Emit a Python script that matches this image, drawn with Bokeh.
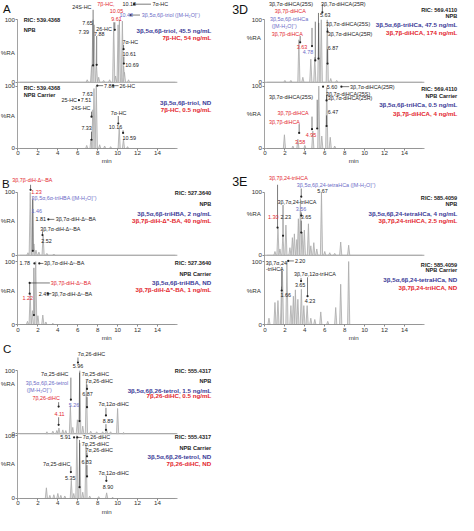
from bokeh.plotting import figure
from bokeh.models import Label, FixedTicker, Range1d, Spacer
from bokeh.layouts import column, row
from bokeh.embed import file_html
from bokeh.resources import INLINE

FONT = "Liberation Sans"
COL = {"k": "#222222", "r": "#e3262d", "b": "#3b3a97", "lb": "#6a6ac6"}
KIND = {"n": ("5.4px", "normal"), "s": ("5.6px", "bold"), "c": ("6.2px", "bold")}
TRACE_LINE = "#a9a9a9"
TRACE_FILL = "#e4e4e4"
AXIS_GRAY = "#8a8a8a"

# ---------------- chromatogram peaks: retention time (min) and %RA ----------------
A_top_t = [6.95, 7.39, 7.52, 7.65, 7.88, 8.10, 8.60, 9.20, 9.61, 9.80, 10.05, 10.18, 10.48, 10.61, 10.69, 11.10]
A_top_h = [4, 27, 100, 92, 28, 8, 3, 4, 96, 10, 92, 100, 98, 26, 16, 4]
A_bot_t = [6.90, 7.33, 7.51, 7.63, 7.86, 8.20, 8.70, 9.30, 10.16, 10.59, 11.00]
A_bot_h = [5, 15, 62, 96, 100, 6, 4, 3, 33, 15, 3]

B_top_t = [1.00, 1.23, 1.46, 1.60, 1.81, 2.10, 2.52, 2.90, 3.60]
B_top_h = [4, 100, 92, 18, 8, 5, 31, 3, 2]
B_bot_t = [0.95, 1.22, 1.45, 1.78, 2.00, 2.49, 2.80, 3.50]
B_bot_h = [5, 49, 22, 100, 14, 15, 4, 2]

C_top_t = [2.90, 3.50, 3.90, 4.11, 4.50, 4.80, 5.26, 5.50, 5.96, 6.20, 6.50, 6.87, 7.30, 7.90, 8.50, 8.89, 9.30, 10.00, 10.60]
C_top_h = [3, 4, 5, 9, 6, 5, 45, 10, 22, 100, 12, 85, 4, 3, 3, 7, 3, 40, 2]
C_bot_t = [2.85, 3.20, 3.60, 4.00, 4.30, 4.70, 5.35, 5.60, 5.91, 6.20, 6.50, 6.83, 7.20, 8.10, 8.90, 9.50]
C_bot_h = [17, 5, 6, 8, 5, 4, 29, 8, 100, 88, 10, 85, 4, 3, 9, 2]

D_top_t = [2.00, 2.60, 3.40, 3.80, 4.60, 5.00, 5.40, 5.65, 6.25, 6.60, 7.20]
D_top_h = [3, 3, 68, 8, 37, 40, 95, 100, 100, 6, 3]
D_bot_t = [1.95, 2.80, 3.30, 4.00, 4.80, 5.40, 5.70, 6.20, 6.55, 7.00]
D_bot_h = [22, 4, 15, 5, 28, 100, 20, 98, 18, 4]

E_top_t = [1.00, 1.30, 1.50, 1.80, 2.10, 2.50, 2.75, 2.95, 3.20, 3.35, 3.56, 3.72, 3.95, 4.36, 4.60, 4.90, 5.20, 5.67, 6.00, 6.50, 7.00, 7.60, 8.40]
E_top_h = [6, 44, 10, 33, 48, 12, 28, 34, 25, 58, 90, 37, 40, 50, 15, 20, 10, 100, 6, 4, 3, 21, 16]
E_bot_t = [0.40, 1.00, 1.30, 1.66, 1.75, 2.20, 2.60, 2.85, 3.05, 3.30, 3.65, 3.90, 4.23, 4.60, 5.00, 5.60, 6.30, 7.10, 7.60, 8.40]
E_bot_h = [10, 35, 38, 60, 85, 100, 30, 45, 55, 40, 56, 30, 30, 10, 8, 20, 5, 27, 64, 100]

X_TICKS = [0, 2, 4, 6, 8, 10, 12, 14]
AXIS_END = 16
PEAK_HALF_WIDTH = 0.11
TRACE_SPAN = (0.2, 15.8)

L_RIGHT = 19.4   # right edge for right-aligned notes, left column
R_RIGHT = 19.3   # right edge for right-aligned notes, right column

# ---------------- annotation texts: (text, x[min], y, colour, align, kind) ----------------
A_texts = [
    ("24S-HC", 6.41, 226, "k", "center", "n"), ("7.65", 6.99, 201, "k", "center", "n"),
    ("7.39", 6.6, 186, "k", "center", "n"), ("26-HC", 8.64, 192, "k", "center", "n"),
    ("7.88", 8.16, 184, "k", "center", "n"), ("7β-HC,", 8.83, 231, "r", "center", "n"),
    ("10.05", 9.9, 220, "r", "center", "n"), ("9.61", 9.9, 207, "r", "center", "n"),
    ("10.18", 10.49, 231, "k", "left", "n"), ("7α-HC", 13.5, 231, "k", "left", "n"),
    ("10.48", 10.2, 213.6, "lb", "left", "n"), ("3β,5α,6β-triol ([M-H₂O]⁺)", 12.43, 213.6, "lb", "left", "n"),
    ("7α-HC", 10.49, 170, "k", "left", "n"), ("10.61", 10.49, 152, "k", "left", "n"),
    ("10.69", 10.78, 133, "k", "left", "n"),
    ("RIC: 539.4368", 0.58, 206, "k", "left", "s"), ("NPB", 0.58, 190, "k", "left", "s"),
    ("3β,5α,6β-triol, 45.5 ng/mL", L_RIGHT, 189, "b", "right", "c"),
    ("7β-HC, 54 ng/mL", L_RIGHT, 178, "r", "right", "c"),
    ("RIC: 539.4368", 0.58, 97.5, "k", "left", "s"), ("NPB Carrier", 0.58, 85, "k", "left", "s"),
    ("7.86", 8.64, 100.6, "k", "left", "n"), ("26-HC", 10.19, 100.6, "k", "left", "n"),
    ("7.63", 6.99, 86.7, "k", "center", "n"), ("25-HC", 5.92, 77.4, "k", "right", "n"),
    ("7.51", 6.31, 77.4, "k", "left", "n"), ("24S-HC", 6.31, 65, "k", "center", "n"),
    ("7.33", 6.89, 32.5, "k", "center", "n"), ("7α-HC", 10.1, 57, "k", "center", "n"),
    ("10.16", 9.8, 34, "k", "center", "n"), ("10.59", 10.49, 17, "k", "left", "n"),
    ("3β,5α,6β-triol, ND", L_RIGHT, 74, "b", "right", "c"),
    ("7β-HC, 0.5 ng/mL", L_RIGHT, 62, "r", "right", "c"),
]
B_texts = [
    ("3β,7β-diH-Δ⁵-BA", -0.58, 230, "r", "left", "n"), ("1.23", 1.85, 210, "r", "center", "n"),
    ("3β,5α,6α-triHBA ([M-H₂O]⁺)", 1.36, 201, "lb", "left", "n"), ("1.46", 1.36, 181, "lb", "left", "n"),
    ("RIC: 527.3640", L_RIGHT, 209, "k", "right", "s"), ("NPB", L_RIGHT, 192, "k", "right", "s"),
    ("3β,5α,6β-triHBA, 2 ng/mL", L_RIGHT, 177, "b", "right", "c"),
    ("3β,7β-diH-Δ⁵-BA, 40 ng/mL", L_RIGHT, 166, "r", "right", "c"),
    ("1.81", 1.75, 167, "k", "left", "n"), ("3β,7α-diH-Δ⁵-BA", 3.79, 167, "k", "left", "n"),
    ("3β,7α-diH-Δ⁵-BA", 2.23, 152, "k", "left", "n"), ("2.52", 2.33, 132, "k", "left", "n"),
    ("1.78", 0.68, 97, "k", "center", "n"), ("3β,7α-diH-Δ⁵-BA", 2.62, 97, "k", "left", "n"),
    ("RIC: 527.3640", L_RIGHT, 97, "k", "right", "s"), ("NPB Carrier", L_RIGHT, 81, "k", "right", "s"),
    ("3β,5α,6β-triHBA, ND", L_RIGHT, 66, "b", "right", "c"),
    ("3β,7β-diH-Δ⁵-BA, 1 ng/mL", L_RIGHT, 55, "r", "right", "c"),
    ("3β,7β-diH-Δ⁵-BA", 3.3, 66, "r", "left", "n"), ("1.22", 0.97, 41.5, "r", "center", "n"),
    ("2.49", 2.62, 49, "k", "center", "n"), ("3β,7α-diH-Δ⁵-BA", 3.4, 49, "k", "left", "n"),
]
C_texts = [
    ("7α,26-diHC", 7.38, 229, "k", "center", "n"), ("5.96", 6.02, 210, "k", "center", "n"),
    ("RIC: 555.4317", L_RIGHT, 203, "k", "right", "s"), ("NPB", L_RIGHT, 186, "k", "right", "s"),
    ("3β,5α,6β,26-tetrol, 1.5 ng/mL", L_RIGHT, 172, "b", "right", "c"),
    ("7β,26-diHC, 0.5 ng/mL", L_RIGHT, 163, "r", "right", "c"),
    ("7α,25-diHC", 3.69, 198, "k", "center", "n"), ("7α,25-diHC", 7.77, 198, "k", "center", "n"),
    ("7α,26-diHC", 8.16, 186, "k", "center", "n"), ("6.87", 6.99, 166, "k", "center", "n"),
    ("3β,5α,6β,26-tetrol", 2.91, 184, "lb", "center", "n"), ("([M-H₂O]⁺)", 2.14, 172, "lb", "center", "n"),
    ("7β,26-diHC", 2.82, 160, "r", "center", "n"), ("5.26", 5.63, 149, "lb", "center", "n"),
    ("4.11", 4.17, 135, "r", "center", "n"), ("7α,12α-diHC", 9.61, 150.5, "k", "center", "n"),
    ("8.89", 9.03, 123, "k", "center", "n"),
    ("5.91", 4.76, 97, "k", "center", "n"), ("7α,26-diHC", 6.5, 97, "k", "left", "n"),
    ("RIC: 555.4317", L_RIGHT, 97, "k", "right", "s"), ("NPB Carrier", L_RIGHT, 80, "k", "right", "s"),
    ("3β,5α,6β,26-tetrol, ND", L_RIGHT, 66, "b", "right", "c"),
    ("7β,26-diHC, ND", L_RIGHT, 55, "r", "right", "c"),
    ("7α,25-diHC", 7.77, 86, "k", "center", "n"), ("7α,26-diHC", 8.16, 77, "k", "center", "n"),
    ("6.83", 6.89, 58, "k", "center", "n"), ("7α,25-diHC", 3.88, 55, "k", "center", "n"),
    ("5.35", 5.24, 32, "k", "center", "n"), ("7α,12α-diHC", 9.61, 40, "k", "center", "n"),
    ("8.90", 9.03, 18, "k", "center", "n"),
]
D_texts = [
    ("3β,7α-diHCA(25S)", 0.39, 231, "k", "left", "n"), ("3β,7α-diHCA(25R)", 5.63, 231, "k", "left", "n"),
    ("RIC: 569.4110", R_RIGHT, 221, "k", "right", "s"), ("NPB", R_RIGHT, 212, "k", "right", "s"),
    ("3β,7β-diHCA", 0.97, 220, "r", "left", "n"), ("5.63", 5.53, 213.6, "k", "left", "n"),
    ("3β,5α,6β-triHCa", 0.49, 207, "lb", "left", "n"), ("([M-H₂O]⁺)", 0.68, 196.6, "lb", "left", "n"),
    ("3β,7β-diHCA", 0.68, 184, "r", "left", "n"), ("3β,7α-diHCA(25S)", 6.12, 200, "k", "left", "n"),
    ("3β,5α,6β-triHCa, 47.5 ng/mL", R_RIGHT, 198, "b", "right", "c"),
    ("3β,7α-diHCA(25R)", 6.31, 182.7, "k", "left", "n"),
    ("3β,7β-diHCA, 174 ng/mL", R_RIGHT, 186, "r", "right", "c"),
    ("3.63", 3.2, 162.5, "r", "left", "n"), ("4.78", 3.79, 155, "lb", "left", "n"),
    ("6.87", 6.31, 161, "k", "left", "n"),
    ("5.60", 6.21, 99, "k", "left", "n"), ("3β,7α-diHCA(25R)", 8.54, 99, "k", "left", "n"),
    ("RIC: 569.4110", R_RIGHT, 96, "k", "right", "s"), ("3β,7α-diHCA(25S)", 6.12, 88, "k", "left", "n"),
    ("3β,7α-diHCA(25S)", 0.39, 82, "k", "left", "n"), ("NPB Carrier", R_RIGHT, 83.6, "k", "right", "s"),
    ("3β,7α-diHCA(25R)", 6.31, 80.5, "k", "left", "n"),
    ("3β,5α,6β-triHCa, 0.5 ng/mL", R_RIGHT, 69.7, "b", "right", "c"),
    ("6.47", 6.31, 58.8, "k", "left", "n"),
    ("3β,7β-diHCA, 4 ng/mL", R_RIGHT, 55.7, "r", "right", "c"),
    ("3β,7β-diHCA", 1.26, 57, "r", "left", "n"), ("3β,7β-diHCA", 0.39, 43, "r", "left", "n"),
    ("4.95", 4.08, 21.7, "r", "left", "n"), ("3.58", 3.0, 10.8, "r", "left", "n"),
]
E_texts = [
    ("3β,7β,24-triHCA", 0.39, 233.5, "r", "left", "n"),
    ("3β,5α,6β,24-tetraHCa ([M-H₂O]⁺)", 3.2, 221, "lb", "left", "n"),
    ("5.67", 5.24, 212, "k", "left", "n"),
    ("RIC: 585.4059", R_RIGHT, 201, "k", "right", "s"), ("NPB", R_RIGHT, 192, "k", "right", "s"),
    ("3β,7α,24-triHCA", 1.26, 195, "k", "left", "n"), ("3.56", 3.1, 184, "lb", "left", "n"),
    ("1.30", 0.29, 170.5, "r", "left", "n"), ("2.23", 1.55, 170.5, "k", "left", "n"),
    ("3.65", 3.59, 170.5, "k", "left", "n"),
    ("3β,5α,6β,24-tetraHCa, 4 ng/mL", R_RIGHT, 177, "b", "right", "c"),
    ("3β,7β,24-triHCA, 2.5 ng/mL", R_RIGHT, 166, "r", "right", "c"),
    ("3β,7α,24", 0.07, 98, "k", "left", "n"), ("-triHCA", 0.1, 87.6, "k", "left", "n"),
    ("2.20", 3.0, 101, "k", "left", "n"),
    ("RIC: 585.4059", R_RIGHT, 95, "k", "right", "s"), ("NPB Carrier", R_RIGHT, 86, "k", "right", "s"),
    ("3β,7α,12α-triHCA", 2.91, 81, "k", "left", "n"),
    ("3β,5α,6β,24-tetraHCa, ND", R_RIGHT, 70.7, "b", "right", "c"),
    ("3β,7β,24-triHCA, ND", R_RIGHT, 58, "r", "right", "c"),
    ("3.65", 3.0, 63, "k", "left", "n"), ("1.66", 1.55, 47.6, "k", "left", "n"),
    ("4.23", 3.98, 37, "k", "left", "n"),
]

# ---------------- connector lines (x0, y0, x1, y1); dot drawn at (x1, y1) ----------------
A_lines = [(7.54, 222, 7.54, 133), (7.9, 180, 7.9, 134), (9.72, 202, 9.72, 190), (10.6, 166, 10.6, 159),
           (10.63, 147, 10.63, 136), (7.38, 59, 7.38, 51), (7.38, 27, 7.38, 14), (10.07, 52, 10.07, 40),
           (10.55, 29, 10.55, 25), (13.35, 231, 11.65, 231), (12.25, 213.6, 11.3, 213.6),
           (10.1, 100.6, 9.55, 100.6), (8.55, 100.6, 7.96, 100.6)]
A_dots = [(6.12, 77.4)]
B_lines = [(1.26, 222, 1.26, 214), (1.49, 198, 1.49, 117), (2.46, 148, 2.46, 142), (3.2, 66, 1.17, 66),
           (1.17, 66, 1.17, 49), (1.6, 90, 1.6, 15), (3.65, 167, 3.05, 167), (2.55, 97, 2.14, 97),
           (3.35, 49, 3.0, 49)]
B_dots = [(1.65, 97)]
C_lines = [(6.02, 224, 6.02, 216), (6.18, 200, 6.18, 123), (6.93, 181, 6.93, 174), (6.93, 161, 6.93, 145),
           (5.31, 192, 5.31, 157), (4.08, 153, 4.08, 146), (4.08, 129, 4.08, 117), (8.83, 144, 8.83, 132),
           (8.83, 118, 8.83, 109), (6.18, 93, 6.18, 18), (6.93, 73, 6.93, 67), (6.93, 53, 6.93, 35),
           (5.31, 51, 5.31, 42), (8.87, 36, 8.87, 28), (6.4, 97, 5.95, 97)]
C_dots = [(5.63, 97)]
D_lines = [(5.05, 203, 5.05, 141), (5.37, 217, 5.37, 144), (4.72, 193, 4.72, 164), (3.53, 180, 3.53, 170),
           (5.76, 231, 5.76, 218), (6.28, 193, 6.28, 187), (6.28, 159, 6.28, 136), (5.24, 78, 5.24, 32),
           (4.72, 51, 4.72, 31), (3.43, 39, 3.43, 25), (6.18, 86, 6.18, 77), (6.18, 53, 6.18, 36),
           (8.45, 99, 7.67, 99)]
D_dots = [(5.83, 99)]
E_lines = [(1.26, 222, 1.26, 154), (1.81, 190, 1.81, 141), (3.64, 216, 3.64, 203), (3.64, 178, 3.64, 173),
           (3.64, 165, 3.64, 146), (1.68, 87, 1.68, 54), (3.62, 74, 3.62, 69), (4.27, 75, 4.27, 45),
           (2.9, 101, 2.33, 101)]
E_dots = []


def peak_shapes(ts, hs, base):
    xs, ys = [], []
    for t, h in zip(ts, hs):
        xs.append([t - PEAK_HALF_WIDTH, t, t + PEAK_HALF_WIDTH])
        ys.append([base, base + h, base])
    return xs, ys


def label(p, text, x, y, color="#222222", size="5px", style="normal", align="left"):
    p.add_layout(Label(x=x, y=y, text=text, text_color=color, text_font=FONT,
                       text_font_size=size, text_font_style=style, text_align=align,
                       text_baseline="middle"))


PX_PER_MIN = 9.96


def panel(width, height, axis_px_left, axis_px_bottom, px_per_unit, y_end, off, tops, bots,
          texts, lines, dots, letter, letter_x, letter_y, letter_size, ra_x, ra_ys):
    x_start = -0.05 - axis_px_left / PX_PER_MIN
    y_start = -axis_px_bottom / px_per_unit
    p = figure(width=width, height=height, output_backend="svg", toolbar_location=None,
               x_range=Range1d(x_start, x_start + width / PX_PER_MIN),
               y_range=Range1d(y_start, y_end),
               min_border_left=0, min_border_right=0, min_border_top=0, min_border_bottom=0)
    p.outline_line_color = None
    p.xgrid.grid_line_color = None
    p.ygrid.grid_line_color = None
    p.background_fill_color = "white"
    p.border_fill_color = "white"

    xa = p.xaxis[0]
    xa.fixed_location = 0
    xa.ticker = FixedTicker(ticks=X_TICKS)
    xa.bounds = (0, AXIS_END)
    ya = p.yaxis[0]
    ya.fixed_location = 0
    ya.ticker = FixedTicker(ticks=[0, 100, off, off + 100])
    ya.major_label_overrides = {0: "0", 100: "100", off: "0", off + 100: "100"}
    ya.bounds = (0, off + 100)
    for ax in (xa, ya):
        ax.axis_line_color = AXIS_GRAY
        ax.axis_line_width = 0.8
        ax.major_tick_line_color = AXIS_GRAY
        ax.major_tick_out = 2
        ax.major_tick_in = 0
        ax.minor_tick_line_color = None
        ax.major_label_text_font = FONT
        ax.major_label_text_font_size = "6.2px"
        ax.major_label_text_color = "#333333"
        ax.major_label_standoff = 1

    # baseline of the upper chromatogram
    p.segment(x0=[0], y0=[off], x1=[AXIS_END], y1=[off], line_color=AXIS_GRAY, line_width=0.8)

    for (ts, hs), base in ((bots, 0), (tops, off)):
        p.line(list(TRACE_SPAN), [base, base], line_color=TRACE_LINE, line_width=0.7)
        xs, ys = peak_shapes(ts, hs, base)
        p.patches(xs, ys, fill_color=TRACE_FILL, line_color=TRACE_LINE, line_width=0.8)

    if lines:
        p.segment(x0=[l[0] for l in lines], y0=[l[1] for l in lines],
                  x1=[l[2] for l in lines], y1=[l[3] for l in lines],
                  line_color="#222222", line_width=0.6)
    dx = [l[2] for l in lines] + [d[0] for d in dots]
    dy = [l[3] for l in lines] + [d[1] for d in dots]
    if dx:
        p.scatter(dx, dy, size=2.2, color="#222222", line_width=0)

    for s, x, y, c, al, kind in texts:
        size, style = KIND[kind]
        label(p, s, x, y, COL[c], size, style, al)

    label(p, letter, letter_x, letter_y, "#111111", letter_size, "normal", "left")
    for ry in ra_ys:
        label(p, "%RA", ra_x, ry, "#333333", "6.2px", "normal", "left")
    label(p, "min", 8.9, -20, "#333333", "6.2px", "normal", "center")
    return p


pA = panel(229, 165, 17, 17, 0.6247, 236.9, 106, (A_top_t, A_top_h), (A_bot_t, A_bot_h),
           A_texts, A_lines, A_dots, "A", -1.5, 224, "11.5px", -1.72, [153, 53])
pB = panel(229, 176, 17, 17, 0.6295, 252.6, 110, (B_top_t, B_top_h), (B_bot_t, B_bot_h),
           B_texts, B_lines, B_dots, "B", -1.6, 224, "11.5px", -1.72, [166, 54])
pC = panel(229, 174, 17, 17, 0.6295, 249.4, 103, (C_top_t, C_top_h), (C_bot_t, C_bot_h),
           C_texts, C_lines, C_dots, "C", -1.5, 238, "11.5px", -1.72, [183, 55])
pD = panel(229, 165, 35, 17, 0.6247, 236.9, 106, (D_top_t, D_top_h), (D_bot_t, D_bot_h),
           D_texts, D_lines, D_dots, "3D", -3.3, 222, "12.5px", -1.84, [178, 56])
pE = panel(229, 176, 35, 17, 0.6295, 252.6, 110, (E_top_t, E_top_h), (E_bot_t, E_bot_h),
           E_texts, E_lines, E_dots, "3E", -3.3, 227, "12.5px", -1.84, [177, 54])

layout = column(row(pA, pD), row(pB, pE), row(pC, Spacer(width=229, height=174)))

open("out.html", "w").write(file_html(layout, INLINE))
